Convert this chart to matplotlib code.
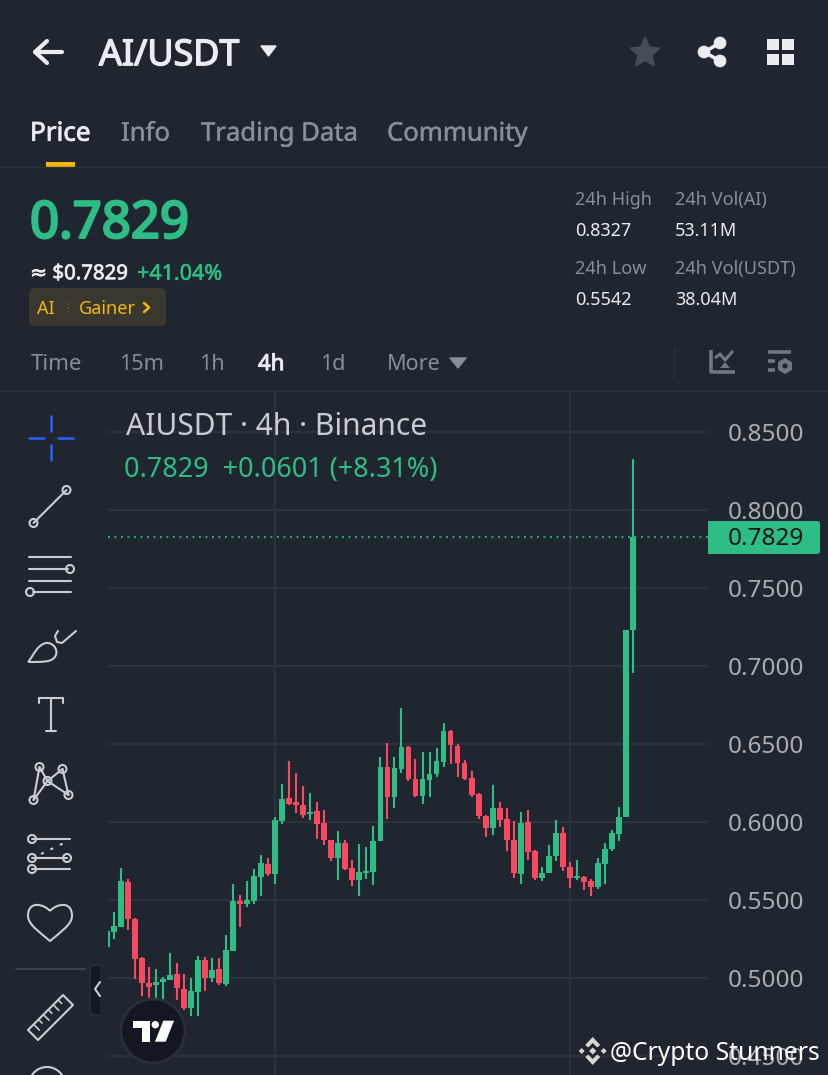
import matplotlib
matplotlib.use("Agg")
import matplotlib.pyplot as plt
import matplotlib.patheffects as pe
from matplotlib.patches import Circle, FancyBboxPatch, Polygon, Rectangle, PathPatch
from matplotlib.path import Path
import numpy as np

plt.rcParams['font.family'] = ['Noto Sans', 'DejaVu Sans']

opens = [.5201,.5295,.5329,.5618,.5381,.5129,.4968,.4953,.4975,.4990,.5026,.4932,.4810,.4913,.5118,.5000,.5056,.4964,.5176,.5494,.5473,.5496,.5646,.5731,
         .5666,.6006,.6154,.6126,.6107,.6051,.6068,.5993,.5882,.5769,.5865,.5705,.5630,.5675,.5682,.5876,.6355,.6160,.6340,.6479,.6273,.6167,.6269,.6308,.6387,.6585,.6487,.6380,
         .6280,.6177,.6038,.5961,.6087,.6017,.5882,.5669,.6000,.5816,.5641,.5673,.5780,.5932,.5711,.5641,.5649,.5619,.5583,.5733,.5825,.5925,.6032,.7229]
closes = [.5304,.5334,.5622,.5379,.5122,.4966,.4943,.4977,.4994,.5022,.4936,.4808,.4917,.5114,.5000,.5052,.4966,.5178,.5496,.5475,.5500,.5654,.5735,.5665,
          .6013,.6147,.6117,.6109,.6047,.6064,.5987,.5884,.5769,.5865,.5699,.5630,.5679,.5686,.5878,.6355,.6160,.6344,.6479,.6273,.6167,.6273,.6310,.6389,.6581,.6493,.6380,.6273,
          .6173,.6036,.5964,.6087,.6013,.5884,.5673,.5993,.5808,.5641,.5673,.5780,.5932,.5711,.5643,.5652,.5617,.5583,.5735,.5825,.5927,.6030,.7229,.7829]
highs = [.5304,.5421,.5705,.5633,.5385,.5137,.5069,.5056,.5005,.5163,.5096,.5026,.5002,.5141,.5137,.5126,.5126,.5274,.5603,.5530,.5620,.5701,.5789,.5770,
         .6034,.6241,.6393,.6312,.6229,.6186,.6126,.6075,.5884,.5944,.5882,.5754,.5861,.5837,.5976,.6419,.6504,.6417,.6729,.6487,.6402,.6451,.6451,.6474,.6632,.6587,.6500,.6397,
         .6327,.6184,.6043,.6239,.6126,.6087,.6008,.6066,.6075,.5818,.5714,.5852,.6013,.5970,.5746,.5756,.5652,.5632,.5767,.5865,.5946,.6096,.6032,.8327]
lows = [.5201,.5252,.5329,.5308,.4994,.4887,.4859,.4859,.4849,.4990,.4859,.4793,.4757,.4757,.4917,.4975,.4958,.4951,.5171,.5327,.5458,.5477,.5528,.5654,
        .5602,.5985,.6109,.6060,.6026,.6013,.5889,.5855,.5752,.5628,.5692,.5587,.5525,.5637,.5598,.5876,.6019,.6092,.6316,.6265,.6158,.6113,.6160,.6290,.6355,.6370,.6286,.6269,
        .6162,.6019,.5906,.5917,.5966,.5814,.5643,.5602,.5756,.5628,.5619,.5673,.5750,.5686,.5577,.5630,.5566,.5525,.5572,.5602,.5816,.5880,.6032,.6957]
price_ticks = [0.45, 0.50, 0.55, 0.60, 0.65, 0.70, 0.75, 0.80, 0.85]
time_grid = [24, 66]
last_price = 0.7829

BG = '#1f2630'; GRID = '#2c323c'; GREEN = '#2ebd85'; RED = '#f84960'
GREY = '#848e9c'; WHITE = '#eaecef'; ICON = '#c9cdd3'; YEL = '#f0b90b'; AXT = '#a9adb3'; ICON2 = '#6f7785'

W, H = 828, 1075
fig = plt.figure(figsize=((W+0.01)/100, (H+0.01)/100), dpi=100, facecolor=BG)

# chart
ax = fig.add_axes([108/W, 0, 600/W, (1075-392)/H], facecolor=BG)
ax.set_xlim(0.188, 85.68)
ax.set_ylim(0.5-97/1560, 0.5+586/1560)
idx = np.arange(len(opens))
o, c, h, l = map(np.array, (opens, closes, highs, lows))
cols = [GREEN if b >= a else RED for a, b in zip(o, c)]
ax.hlines(price_ticks, 0, 100, color=GRID, lw=1.6, zorder=1)
ax.vlines(time_grid, 0, 2, color=GRID, lw=1.6, zorder=1)
ax.vlines(idx, l, h, color=cols, lw=1.5, zorder=3)
ax.bar(idx, np.abs(c-o), bottom=np.minimum(o, c), width=0.82, color=cols, zorder=3)
ax.axhline(last_price, color=GREEN, lw=1.3, ls=(0, (1, 2.6)), zorder=2)
ax.yaxis.tick_right()
ax.set_yticks(price_ticks, [f'{p:.4f}' for p in price_ticks], fontsize=17.5, color=AXT)
ax.tick_params(axis='y', length=0, pad=14.4)
ax.set_xticks([])
for s in ax.spines.values():
    s.set_visible(False)

# UI layer in pixels
ui = fig.add_axes([0, 0, 1, 1], facecolor='none')
ui.set_xlim(0, W); ui.set_ylim(H, 0); ui.axis('off')

def T(x, y, s, size, color=WHITE, stroke=0, ha='left', va='center', **k):
    t = ui.text(x, y+2.2, s, fontsize=size, color=color, ha=ha, va=va, **k)
    if stroke:
        t.set_path_effects([pe.withStroke(linewidth=stroke, foreground=color)])
    return t
def L(xs, ys, color=ICON, lw=1.5, **k):
    ui.plot(xs, ys, color=color, lw=lw, solid_capstyle=k.pop('cap', 'round'), **k)
def C(x, y, r=4, ec=ICON, fc=BG, lw=1.5, **k):
    ui.add_patch(Circle((x, y), r, ec=ec, fc=fc, lw=lw, **k))

# header
L([35, 62], [52, 52], WHITE, 3)
L([47, 35, 47], [41, 52, 63], WHITE, 3)
T(99, 54, 'AI/USDT', 25.8, WHITE, stroke=1.0)
ui.add_patch(Polygon([(261, 46), (276, 46), (268.5, 56)], fc=WHITE, ec=WHITE, lw=1, joinstyle='round'))
ang = np.deg2rad(np.arange(10)*36-90)
rad = np.where(np.arange(10) % 2 == 0, 15, 7)
ui.add_patch(Polygon(np.c_[645+rad*np.cos(ang), 53+rad*np.sin(ang)], fc='#474d57', ec='#474d57', lw=1.5, joinstyle='round'))
L([720, 704, 720], [43, 52, 61], WHITE, 2.6)
for p in [(720, 43), (704, 52), (720, 61)]:
    C(*p, r=6, ec=WHITE, fc=WHITE, lw=0.5)
for xx in (767, 782):
    for yy in (39, 54):
        ui.add_patch(Rectangle((xx, yy), 11.5, 11.5, fc=WHITE, ec='none'))

# tabs
T(30, 132, 'Price', 18.8, WHITE, stroke=0.6)
T(121, 132, 'Info', 18.5, GREY, stroke=0.3)
T(201, 132, 'Trading Data', 18.5, GREY, stroke=0.3)
T(387, 132, 'Community', 18.5, GREY, stroke=0.3)
ui.add_patch(Rectangle((46, 162), 29, 5, fc=YEL, ec='none'))
L([0, W], [167.5, 167.5], GRID, 1)

# price block
T(30, 222, '0.7829', 36.6, GREEN, stroke=1.8)
T(30, 272, '≈ $0.7829', 14.7, WHITE, stroke=0.5)
T(137, 272, '+41.04%', 15.5, GREEN, stroke=0.4)
ui.add_patch(FancyBboxPatch((33, 292), 129, 30, boxstyle='round,pad=4,rounding_size=6', fc='#3a372f', ec='none'))
T(37, 307, 'AI', 13, YEL)
L([67.5, 67.5], [303, 311], '#7c6a26', 1, ls=':')
T(79, 307, 'Gainer', 13, YEL)
L([144, 149, 144], [303, 307.5, 312], YEL, 1.8)

# stats
for x, y, s, col in [(575, 197.5, '24h High', GREY), (575, 229, '0.8327', WHITE), (675, 197.5, '24h Vol(AI)', GREY), (675, 229, '53.11M', WHITE),
                     (575, 267, '24h Low', GREY), (575, 298, '0.5542', WHITE), (675, 267, '24h Vol(USDT)', GREY), (675, 298, '38.04M', WHITE)]:
    T(x, y, s, 13, col)

# timeframe row
for x, s, col, st, sz in [(31, 'Time', GREY, 0, 16), (119, '15m', GREY, 0, 15.5), (199, '1h', GREY, 0, 15.5), (258, '4h', WHITE, 0.7, 16),
                          (320, '1d', GREY, 0, 15.5), (387, 'More', GREY, 0, 15.5)]:
    T(x, 362.5, s, sz, col, stroke=st)
ui.add_patch(Polygon([(450, 358), (466, 358), (458, 368)], fc=GREY, ec=GREY, lw=1, joinstyle='round'))
L([675, 675], [347, 378], GRID, 1.2)
L([710.5, 710.5, 735], [350, 372, 372], ICON2, 2.6, cap='butt')
L([715, 720, 725, 733], [358, 354, 360, 351], ICON2, 2.2, cap='butt')
ui.add_patch(Polygon([(720, 368), (725, 362), (730, 368)], fc=ICON2, ec='none'))
L([768, 791], [352, 352], ICON2, 2.6, cap='butt')
L([768, 775], [361.5, 361.5], ICON2, 2.6, cap='butt')
L([768, 775], [370, 370], ICON2, 2.6, cap='butt')
hx = np.deg2rad(np.arange(6)*60+30)
ui.add_patch(Polygon(np.c_[785+8*np.cos(hx), 366+8*np.sin(hx)], fc=ICON2, ec='none'))
C(785, 366, r=2.6, ec='none', fc=BG)
L([0, W], [391, 391], GRID, 1)

# chart legends
T(126, 425, 'AIUSDT · 4h · Binance', 21.6, '#c9cdd3')
T(124, 468, '0.7829  +0.0601 (+8.31%)', 19.4, GREEN)
ui.add_patch(Rectangle((708, 521), 106, 33, fc=GREEN, ec='none'))
ui.add_patch(FancyBboxPatch((808, 524), 9, 27, boxstyle='round,pad=3,rounding_size=3', fc=GREEN, ec='none'))
T(728, 536.5, '0.7829', 17.5, '#10151c')

# toolbar
B = '#2962ff'
L([51, 51], [416, 431], B, 1.8); L([51, 51], [445, 460], B, 1.8)
L([29, 44], [438, 438], B, 1.8); L([58, 73], [438, 438], B, 1.8)
L([33.5, 66.5], [523, 490]); C(33.5, 523); C(66.5, 490)
L([29, 71], [557, 557]); L([29, 68], [569, 569]); C(70, 569)
L([29, 71], [581, 581]); L([33, 71], [592, 592]); C(30, 592)
brush = Path([(28, 662), (34, 655), (37, 645), (46, 643), (54, 642), (60, 652), (54, 658), (50, 662), (44, 662), (28, 662)],
             [1, 4, 4, 4, 4, 4, 4, 4, 4, 4])
ui.add_patch(PathPatch(brush, fc='none', ec=ICON, lw=1.5))
L([58, 55, 57, 62, 76], [631, 636, 642, 643, 631])
L([39, 39, 63, 63], [703, 698, 698, 703]); L([51, 51], [698, 731]); L([46, 56], [731, 731])
for a, b in [((39.5, 767), (47.5, 781)), ((39.5, 767), (33.5, 800)), ((33.5, 800), (47.5, 781)), ((47.5, 781), (62.5, 769)),
             ((47.5, 781), (68.5, 795)), ((62.5, 769), (68.5, 795))]:
    L([a[0], b[0]], [a[1], b[1]])
for p in [(39.5, 767), (62.5, 769), (47.5, 781), (68.5, 795), (33.5, 800)]:
    C(*p)
L([32, 70], [839, 839]); C(32, 839)
L([41, 66], [854, 842], ls=(0, (1.5, 3.5)))
L([32, 67], [858, 858]); C(32, 858); C(67, 858)
L([32, 70], [869, 869]); C(32, 869)
heart = Path([(50, 911), (44, 904), (28, 900), (28, 916), (28, 925), (42, 934), (50, 941), (58, 934), (72, 925), (72, 916), (72, 900), (56, 904), (50, 911)],
             [1, 4, 4, 4, 4, 4, 4, 4, 4, 4, 4, 4, 4])
ui.add_patch(PathPatch(heart, fc='none', ec=ICON, lw=1.5))
L([16, 85], [969, 969], '#3c424c', 1.5)
ui.add_patch(FancyBboxPatch((93, 968), 10, 44, boxstyle='round,pad=3,rounding_size=6', fc='#141821', ec='#2a3039', lw=1))
ui.add_patch(Rectangle((100, 960), 8, 60, fc=BG, ec='none', zorder=1.5))
L([100, 95, 100], [982, 989, 996], ICON, 1.5, zorder=3)
ui.add_patch(Polygon([(63, 995), (73, 1005), (38, 1040), (28, 1030)], closed=True, fc='none', ec=ICON, lw=1.5, joinstyle='round'))
for t, ln in zip([0.14, 0.28, 0.42, 0.56, 0.7, 0.84], [5, 8, 5, 8, 5, 8]):
    x0, y0 = 63+(28-63)*t, 995+(1030-995)*t
    L([x0, x0+ln*0.707], [y0, y0+ln*0.707], lw=1.2)
ui.add_patch(Circle((47, 1085), 18, fc='none', ec=ICON, lw=1.5))

# logo
C(153, 1031, r=32, ec='#2a2e39', fc='#131722', lw=2, zorder=4)
ui.add_patch(Polygon([(132.7, 1020.7), (150, 1020.7), (150, 1041.7), (141.7, 1041.7), (141.7, 1027.7), (132.7, 1027.7)], fc='white', ec='none', zorder=5))
C(155.3, 1024.7, r=3.7, ec='none', fc='white', zorder=5)
ui.add_patch(Polygon([(163.3, 1020.7), (174, 1020.7), (165.7, 1041.7), (155, 1041.7)], fc='white', ec='none', zorder=5))

# watermark
T(610, 1051.5, '@Crypto Stunners', 17.7, 'white')
LG = '#d6d6d6'
cx, cy = 592.7, 1051
for dx, r in [(0, 3.6), (-11, 3), (11, 3)]:
    ui.add_patch(Polygon([(cx+dx, cy-r), (cx+dx+r, cy), (cx+dx, cy+r), (cx+dx-r, cy)], fc=LG, ec='none'))
for sg in (-1, 1):
    ui.add_patch(Polygon([(cx-7.5, cy+sg*6), (cx, cy+sg*14), (cx+7.5, cy+sg*6), (cx+4.5, cy+sg*3.5), (cx, cy+sg*8), (cx-4.5, cy+sg*3.5)], fc=LG, ec='none'))

fig.savefig('out.png', dpi=100, facecolor=BG)
